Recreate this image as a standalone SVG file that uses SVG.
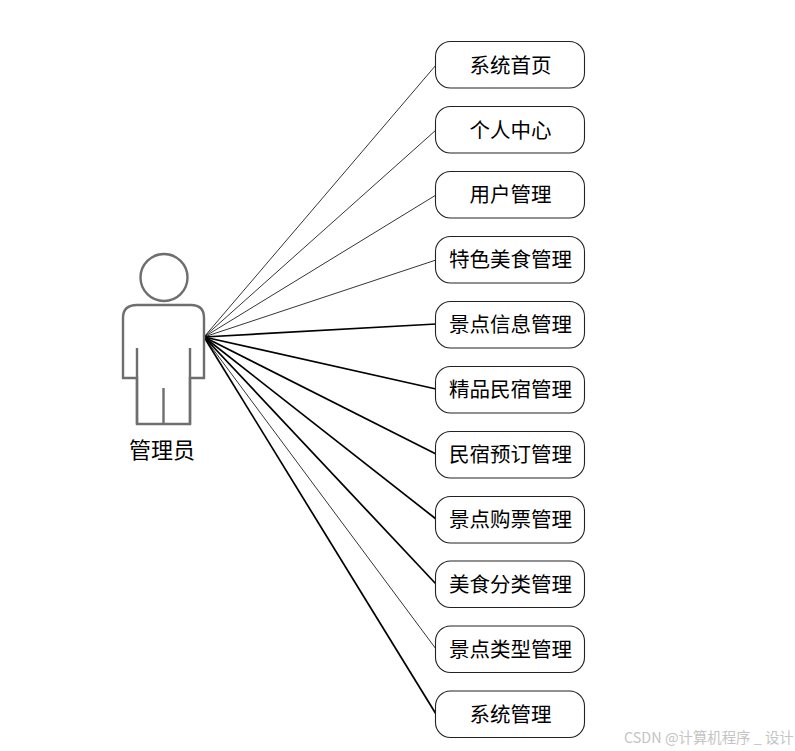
<svg xmlns="http://www.w3.org/2000/svg" width="795" height="751" viewBox="0 0 795 751">
<style>
.n rect{fill:#fff;stroke:#222;stroke-width:1.1}
.n text{font-family:"Noto Sans CJK SC","Noto Sans CJK JP",sans-serif;font-size:20.5px;fill:#000;text-anchor:middle}
.a text{font-family:"Noto Sans CJK SC","Noto Sans CJK JP",sans-serif;font-size:22px;fill:#000;text-anchor:middle}
.c line{stroke:#000}
.t{stroke-width:.8}
.m{stroke-width:1.7}
.a path,.a circle{fill:none;stroke:#6e6e6e;stroke-width:2.4}
.w{font-family:"Noto Sans CJK SC","Noto Sans CJK JP",sans-serif;font-size:14.4px;fill:#c4c4c4}
</style>
<rect width="795" height="751" fill="#fff"/>
<g id="connectors" class="c">
<line class="t" x1="204" y1="337" x2="436" y2="65"/>
<line class="t" x1="204" y1="337" x2="436" y2="130"/>
<line class="t" x1="204" y1="337" x2="436" y2="195"/>
<line class="t" x1="204" y1="337" x2="436" y2="260"/>
<line class="m" x1="204" y1="337" x2="436" y2="324"/>
<line class="m" x1="204" y1="337" x2="436" y2="389"/>
<line class="m" x1="204" y1="337" x2="436" y2="454"/>
<line class="m" x1="204" y1="337" x2="436" y2="519"/>
<line class="m" x1="204" y1="337" x2="436" y2="584"/>
<line class="t" x1="204" y1="337" x2="436" y2="649"/>
<line class="m" x1="204" y1="337" x2="436" y2="714"/>
</g>
<g id="actor" class="a">
<circle cx="164" cy="277.500" r="23.500"/>
<path d="M137 305H191Q204 305 204 318V378H190V424H137V378H123V318Q123 305 137 305Z"/>
<path d="M137 348V424M190 348V424M163.500 388V424"/>
<text x="162" y="458">管理员</text>
</g>
<g id="n1" class="n"><rect x="435.500" y="41.500" width="149" height="46.500" rx="15"/><text x="510.500" y="73">系统首页</text></g>
<g id="n2" class="n"><rect x="435.500" y="106.500" width="149" height="46.500" rx="15"/><text x="510.500" y="138">个人中心</text></g>
<g id="n3" class="n"><rect x="435.500" y="171.500" width="149" height="46.500" rx="15"/><text x="510.500" y="202">用户管理</text></g>
<g id="n4" class="n"><rect x="435.500" y="236.500" width="149" height="46.500" rx="15"/><text x="510.500" y="267">特色美食管理</text></g>
<g id="n5" class="n"><rect x="435.500" y="301.500" width="149" height="46.500" rx="15"/><text x="510.500" y="332">景点信息管理</text></g>
<g id="n6" class="n"><rect x="435.500" y="366.500" width="149" height="46.500" rx="15"/><text x="510.500" y="397">精品民宿管理</text></g>
<g id="n7" class="n"><rect x="435.500" y="431.500" width="149" height="46.500" rx="15"/><text x="510.500" y="462">民宿预订管理</text></g>
<g id="n8" class="n"><rect x="435.500" y="496.500" width="149" height="46.500" rx="15"/><text x="510.500" y="527">景点购票管理</text></g>
<g id="n9" class="n"><rect x="435.500" y="561" width="149" height="46.500" rx="15"/><text x="510.500" y="592">美食分类管理</text></g>
<g id="n10" class="n"><rect x="435.500" y="626" width="149" height="46.500" rx="15"/><text x="510.500" y="657">景点类型管理</text></g>
<g id="n11" class="n"><rect x="435.500" y="691" width="149" height="46.500" rx="15"/><text x="510.500" y="722">系统管理</text></g>
<text class="w" x="624" y="743">CSDN @计算机程序 _ 设计</text>
</svg>
